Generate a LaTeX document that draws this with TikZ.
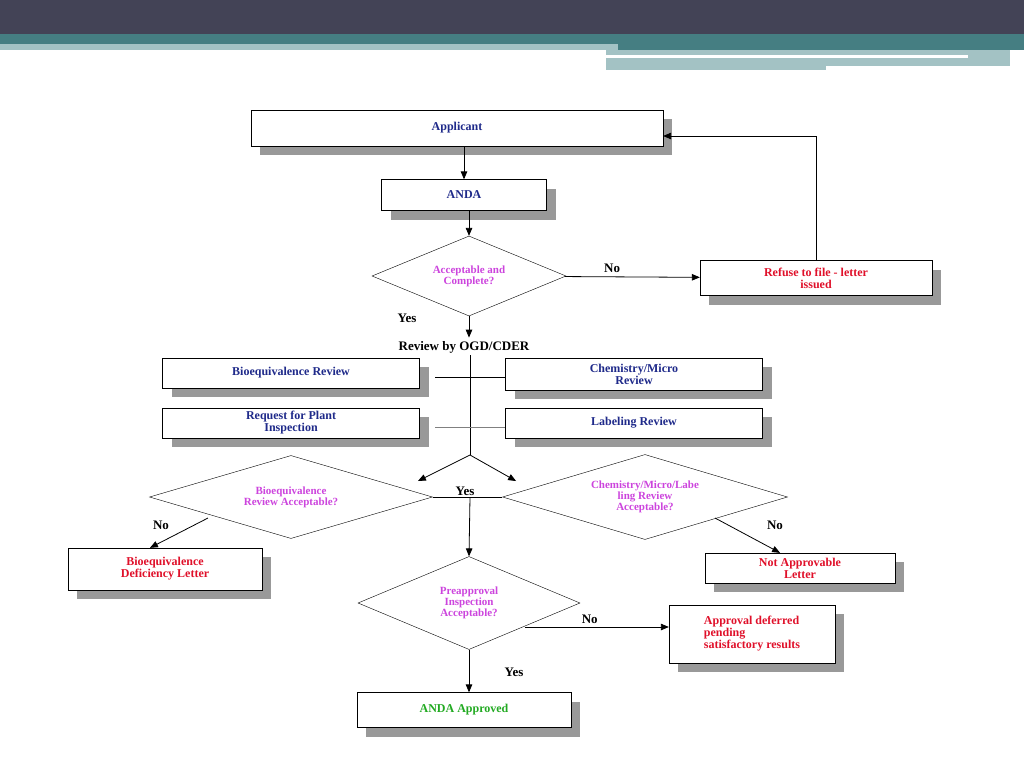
\documentclass[tikz,border=0pt]{standalone}
\usepackage{fontspec}
\setmainfont{Liberation Serif}
\usetikzlibrary{shapes.geometric,shadows,arrows}
\definecolor{navy}{HTML}{1F2A8A}
\definecolor{violet}{HTML}{CC44DD}
\definecolor{redtxt}{HTML}{E0102A}
\definecolor{greentxt}{HTML}{22AA22}
\definecolor{topbar}{HTML}{434356}
\definecolor{teal}{HTML}{457E82}
\definecolor{lteal}{HTML}{A3C2C4}
\tikzset{
  box/.style={draw, fill=white, thin, align=center, font=\fontsize{12}{12}\bfseries,
    drop shadow={shadow xshift=9pt, shadow yshift=-9pt, fill=gray!80, opacity=1}},
  dec/.style={draw, diamond, aspect=2.4, inner sep=0pt, align=center, text=violet,
    font=\fontsize{11}{11}\bfseries},
  lab/.style={font=\fontsize{13}{13}\bfseries},
  arr/.style={-triangle 45, thick}
}
\begin{document}
\begin{tikzpicture}[x=1pt, y=-1pt]
    \useasboundingbox (0,0) rectangle (1024,768);
    % header bars
    \fill[topbar] (0,0) rectangle (1024,34);
    \fill[teal] (0,34) rectangle (1024,44);
    \fill[lteal] (0,44) rectangle (618,50);
    \fill[teal] (618,44) rectangle (1024,50);
    \fill[lteal] (606,50) rectangle (1010,70);
    \fill[white] (606,55) rectangle (968,58);
    \fill[white] (826,66) rectangle (1010,70);

    \node[box, minimum width=412, minimum height=36, text=navy] (app) at (457,128) {Applicant};
    \node[box, minimum width=165, minimum height=31, text=navy] (anda) at (464,195) {ANDA};
    \node[dec, minimum width=194, minimum height=80] (acc) at (469,276) {Acceptable and\\Complete?};
    \node[box, minimum width=232, minimum height=35, text=redtxt] (rtf) at (816,278) {Refuse to file - letter\\issued};
    \node[lab] (review) at (464,347) {Review by OGD/CDER};
    \node[box, minimum width=257, minimum height=30, text=navy] (bio) at (291,373) {Bioequivalence Review};
    \node[box, minimum width=257, minimum height=32, text=navy] (chem) at (634,374) {Chemistry/Micro\\Review};
    \node[box, minimum width=257, minimum height=30, text=navy] (plant) at (291,423) {Request for Plant\\Inspection};
    \node[box, minimum width=257, minimum height=30, text=navy] (label) at (634,423) {Labeling Review};
    \node[dec, minimum width=283, minimum height=83] (bioacc) at (291,497) {Bioequivalence\\Review Acceptable?};
    \node[dec, minimum width=285, minimum height=85] (chemacc) at (645,497) {Chemistry/Micro/Labe\\ling Review\\Acceptable?};
    \node[box, minimum width=194, minimum height=42, text=redtxt] (defic) at (165,569) {Bioequivalence\\Deficiency Letter};
    \node[box, minimum width=190, minimum height=30, text=redtxt] (notapp) at (800,568) {Not Approvable\\Letter};
    \node[dec, minimum width=222, minimum height=93] (pre) at (469,603) {Preapproval\\Inspection\\Acceptable?};
    \node[box, minimum width=166, minimum height=58, text=redtxt, align=left] (defer) at (752,634) {Approval deferred\\pending\\satisfactory results};
    \node[box, minimum width=214, minimum height=35, text=greentxt] (ok) at (464,710) {ANDA Approved};

    \coordinate (top) at (470,355);
    \coordinate (split) at (470,455);
    \coordinate (yes) at (470,497);

    \draw[arr] (app.south -| anda) -- (anda);
    \draw[arr] (anda.south -| acc) -- (acc);
    \draw[arr] (acc) -- node[lab, above, pos=.35] {No} (rtf);
    \draw[arr] (rtf.north) |- (app.east |- 0,136);
    \draw[arr] (acc) -- (review.north -| acc);
    \node[lab] at (407,318) {Yes};

    \draw (top) -- (split);
    \draw (435,377) -- (chem.west |- 0,377);
    \draw[gray] (435,427) -- (label.west |- 0,427);
    \draw[arr] (split) -- (418,481);
    \draw[arr] (split) -- (516,481);
    \draw (bioacc.east) -- (chemacc.west);
    \node[lab] at (465,491) {Yes};
    \draw[arr] (yes) -- (pre.north);

    \draw[arr] (208,518) -- (defic.north -| 150,0);
    \node[lab] at (161,525) {No};
    \draw[arr] (715,518) -- (notapp.north -| 780,0);
    \node[lab] at (775,525) {No};

    \draw[arr] (525,627) -- node[lab, above, pos=.45] {No} (defer.west |- 0,627);
    \draw[arr] (pre.south) -- (ok.north -| pre);
    \node[lab] at (514,672) {Yes};
\end{tikzpicture}
\end{document}
